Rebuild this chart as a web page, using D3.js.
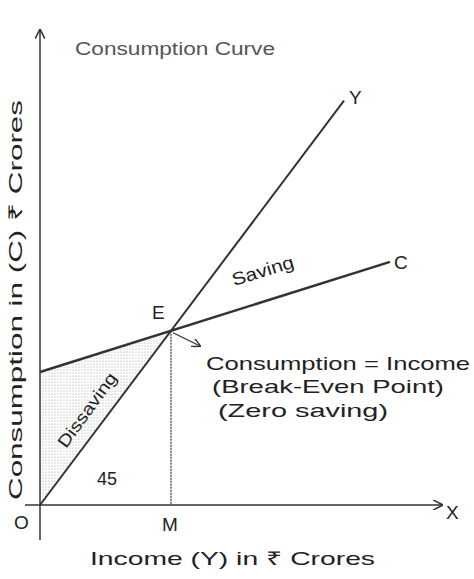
<!DOCTYPE html>
<html><head><meta charset="utf-8">
<script src="https://cdn.jsdelivr.net/npm/d3@7"></script>
<style>body{margin:0;background:#fff}text{font-family:"Liberation Sans",Arial,sans-serif;fill:#222}</style>
</head><body><div id="container"></div>
<script>
// Data (income and consumption in units)
const incomeLine = [[0, 0], [7.6, 7.6]];          // 45 degree line OY
const consumptionLine = [[0, 2.5], [8.75, 4.57]]; // C curve
const breakEven = [3.275, 3.275];                 // point E
const dissaving = [[0, 0], [0, 2.5], [3.275, 3.275]];

const width = 474, height = 579;
const svg = d3.select("#container").append("svg")
    .attr("width", width).attr("height", height);

const x = d3.scaleLinear().domain([0, 10]).range([40, 440]);
const y = d3.scaleLinear().domain([0, 1]).range([505, 451.8]);

const ink = "#333";
const defs = svg.append("defs");
defs.append("pattern").attr("id", "dots").attr("width", 3).attr("height", 3)
    .attr("patternUnits", "userSpaceOnUse")
    .append("circle").attr("cx", 1).attr("cy", 1).attr("r", 0.6).attr("fill", "#999");
defs.append("marker").attr("id", "arr").attr("viewBox", "0 0 10 10")
    .attr("refX", 9).attr("refY", 5).attr("markerWidth", 7).attr("markerHeight", 7)
    .attr("orient", "auto")
    .append("path").attr("d", "M0,0L10,5L0,10").attr("fill", "none").attr("stroke", ink).attr("stroke-width", 1.5);

const line = d3.line().x(d => x(d[0])).y(d => y(d[1]));

// shaded dissaving area
svg.append("path").attr("d", line(dissaving) + "Z").attr("fill", "url(#dots)");

// axes
svg.append("line").attr("x1", x(0)).attr("x2", x(0)).attr("y1", 540).attr("y2", 30)
    .attr("stroke", ink).attr("stroke-width", 1.5).attr("marker-end", "url(#arr)");
svg.append("line").attr("x1", 25).attr("x2", 442).attr("y1", y(0)).attr("y2", y(0))
    .attr("stroke", ink).attr("stroke-width", 1.5).attr("marker-end", "url(#arr)");

svg.append("path").attr("d", line(incomeLine)).attr("fill", "none").attr("stroke", ink).attr("stroke-width", 2);
svg.append("path").attr("d", line(consumptionLine)).attr("fill", "none").attr("stroke", ink).attr("stroke-width", 2.5);

// dotted drop from E to M
svg.append("line").attr("x1", x(breakEven[0])).attr("x2", x(breakEven[0]))
    .attr("y1", y(breakEven[1])).attr("y2", y(0))
    .attr("stroke", ink).attr("stroke-width", 1.2).attr("stroke-dasharray", "2,1");

// arrow from E to label
svg.append("line").attr("x1", x(breakEven[0]) + 2).attr("y1", y(breakEven[1]) + 2)
    .attr("x2", 200).attr("y2", 346)
    .attr("stroke", ink).attr("stroke-width", 1.3).attr("marker-end", "url(#arr)");

const txt = (t, px, py, size, rot, len) => {
    const el = svg.append("text").attr("x", px).attr("y", py).attr("font-size", size).text(t);
    if (rot) el.attr("transform", `rotate(${rot},${px},${py})`);
    if (len) el.attr("textLength", len).attr("lengthAdjust", "spacingAndGlyphs");
    return el;
};
txt("Consumption Curve", 75, 55, 18, 0, 200).style("fill", "#555");
txt("Y", 349, 104, 19);
txt("C", 394, 269, 19);
txt("E", 152, 319, 19);
txt("O", 14, 529, 19);
txt("M", 162, 531, 19);
txt("X", 446, 519, 19);
txt("45", 97, 485, 18);
txt("Saving", 234, 286, 18, -17, 64);
txt("Dissaving", 66, 449, 17, -54, 88);
txt("Consumption = Income", 206, 370, 19, 0, 264);
txt("(Break-Even Point)", 212, 393, 19, 0, 232);
txt("(Zero saving)", 218, 417, 19, 0, 170);
txt("Income (Y) in ₹ Crores", 90, 565, 19, 0, 285);
txt("Consumption in (C) ₹ Crores", 22, 500, 19, -90, 400);
</script></body></html>
